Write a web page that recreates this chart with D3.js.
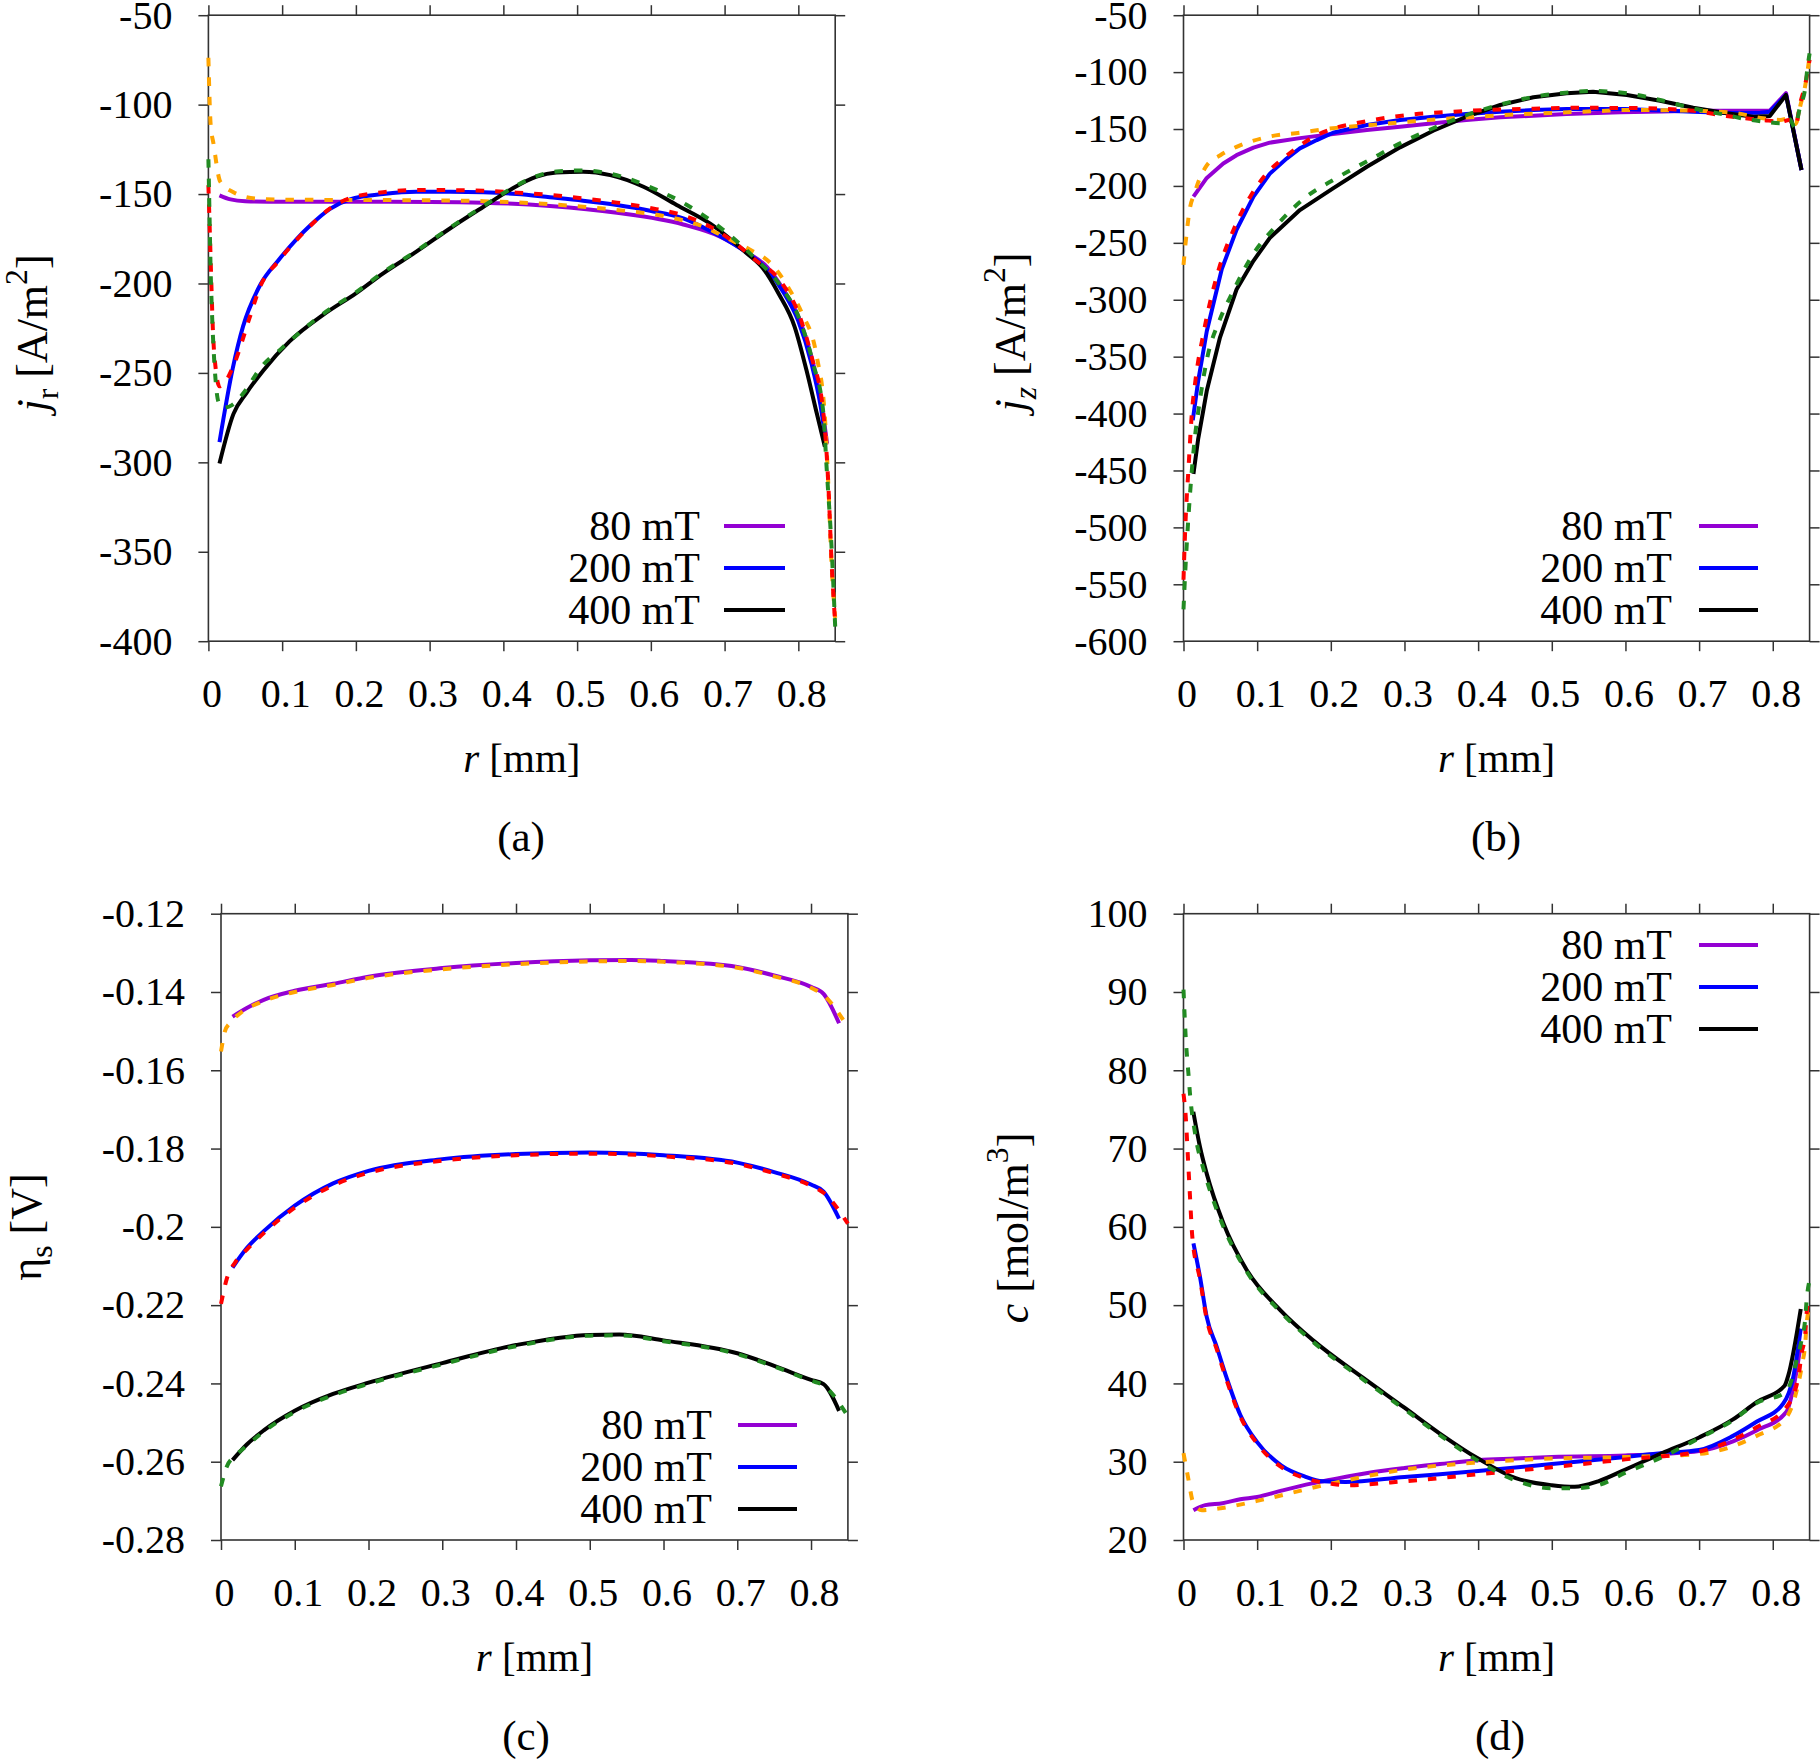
<!DOCTYPE html>
<html>
<head>
<meta charset="utf-8">
<script src="https://cdn.jsdelivr.net/npm/d3@7"></script>
<style>
  body { margin: 0; background: #fff; }
  svg { display: block; }
  text { font-family: "Liberation Serif", "Times New Roman", serif; fill: #000; white-space: pre; }
</style>
</head>
<body>
<script>
// r [mm] ticks, shared by all four panels
const rTicks = [0, 0.1, 0.2, 0.3, 0.4, 0.5, 0.6, 0.7, 0.8];
const jrTicks = [-400, -350, -300, -250, -200, -150, -100, -50];
const jzTicks = [-600, -550, -500, -450, -400, -350, -300, -250, -200, -150, -100, -50];
const etaTicks = [-0.28, -0.26, -0.24, -0.22, -0.2, -0.18, -0.16, -0.14, -0.12];
const cTicks = [20, 30, 40, 50, 60, 70, 80, 90, 100];

const fields = ["80 mT", "200 mT", "400 mT"];
const solidColors = ["#9400d3", "#0000ff", "#000000"];
const dashColors = ["#ffa500", "#ff0000", "#228b22"];

// (a) j_r, solid
const jr80 = [[0.015,-150.7],[0.03,-153],[0.05,-154],[0.1,-154.3],[0.2,-154.3],[0.3,-154.4],[0.373,-154.8],[0.463,-156.7],[0.554,-160.5],[0.644,-167],[0.694,-173.8],[0.73,-182.5],[0.757,-190.6],[0.78,-203.6],[0.802,-220.4],[0.82,-244.6],[0.832,-268.9],[0.839,-289.5]];
const jr200 = [[0.015,-288.7],[0.033,-247.5],[0.047,-224],[0.07,-201],[0.095,-187],[0.12,-175],[0.138,-167.6],[0.165,-158.3],[0.192,-153],[0.237,-150],[0.282,-148.7],[0.328,-148.7],[0.373,-149],[0.418,-150],[0.463,-151.8],[0.508,-153.7],[0.554,-156.1],[0.599,-159.3],[0.644,-163.6],[0.68,-170.5],[0.72,-180],[0.757,-192],[0.78,-205],[0.8,-221],[0.818,-245],[0.83,-268],[0.838,-290]];
const jr400 = [[0.015,-300.7],[0.034,-272.9],[0.052,-261],[0.0745,-248.6],[0.11,-232.4],[0.156,-217.4],[0.2,-205.5],[0.237,-194.3],[0.282,-182.2],[0.328,-169.1],[0.373,-157.1],[0.409,-147.7],[0.445,-140.3],[0.472,-138],[0.508,-137.5],[0.545,-139.4],[0.59,-145.9],[0.635,-156.1],[0.68,-166.4],[0.73,-183.1],[0.752,-191.5],[0.773,-205.5],[0.795,-224.2],[0.811,-248.4],[0.825,-272.6],[0.836,-291.3]];
// (a) j_r, dashed
const jr80d = [[0,-73.8],[0.003,-110.9],[0.007,-122],[0.016,-143],[0.034,-149],[0.065,-152.5],[0.11,-153.2],[0.2,-153.3],[0.3,-153.5],[0.373,-154],[0.463,-155.7],[0.554,-158.9],[0.626,-163],[0.67,-168],[0.705,-175],[0.734,-181],[0.762,-188.5],[0.791,-205.5],[0.805,-216.7],[0.825,-240.9],[0.836,-274.5],[0.841,-315.5],[0.845,-356.5],[0.85,-387]];
const jr200d = [[0,-145],[0.002,-172],[0.004,-200],[0.006,-225],[0.01,-248],[0.015,-257.5],[0.021,-256],[0.034,-246],[0.056,-219],[0.07,-202],[0.095,-187.5],[0.12,-175.5],[0.14,-167],[0.165,-158],[0.192,-152.3],[0.237,-149],[0.282,-147.8],[0.328,-147.8],[0.373,-148.2],[0.418,-149.2],[0.463,-150.5],[0.508,-152.4],[0.554,-154.8],[0.599,-157.8],[0.644,-162],[0.68,-168.2],[0.71,-176],[0.739,-186],[0.778,-199.9],[0.802,-218.6],[0.818,-241],[0.834,-272.6],[0.841,-315],[0.845,-355],[0.85,-390]];
const jr400d = [[0,-130.5],[0.0013,-157],[0.003,-192],[0.0054,-222],[0.009,-250],[0.0135,-266],[0.02,-269.5],[0.032,-268],[0.05,-260],[0.07,-247.5],[0.1,-236],[0.156,-216.8],[0.2,-205],[0.237,-193.8],[0.282,-181.8],[0.328,-168.7],[0.373,-156.7],[0.409,-147.3],[0.445,-140],[0.472,-137.4],[0.508,-136.8],[0.545,-138.6],[0.603,-146.8],[0.649,-156.1],[0.698,-170],[0.739,-185],[0.775,-200.9],[0.802,-220.4],[0.82,-244.6],[0.834,-272.6],[0.838,-300.5],[0.845,-347],[0.85,-392]];

// (b) j_z, solid
const jz80 = [[0.0135,-209.4],[0.0316,-193],[0.054,-180.3],[0.072,-173],[0.095,-166.4],[0.117,-162],[0.158,-158],[0.203,-154.4],[0.249,-150.8],[0.294,-148],[0.339,-145],[0.384,-142.1],[0.43,-139.7],[0.475,-138.3],[0.52,-136.8],[0.593,-135.3],[0.65,-134.5],[0.692,-133.9],[0.74,-134],[0.796,-133.9],[0.818,-118.5],[0.839,-186]];
const jz200 = [[0.0126,-405.9],[0.02,-371],[0.0316,-327.7],[0.052,-273],[0.072,-238.5],[0.095,-209.4],[0.117,-189.4],[0.14,-176],[0.158,-167],[0.181,-159.7],[0.203,-153.3],[0.249,-146.5],[0.294,-142.1],[0.339,-139.2],[0.384,-136.8],[0.43,-134.8],[0.475,-133.3],[0.52,-132.5],[0.6,-132.4],[0.692,-134.8],[0.74,-136],[0.783,-135.7],[0.796,-134.8],[0.818,-120],[0.839,-186]];
const jz400 = [[0.0135,-453],[0.02,-422],[0.0316,-380],[0.0496,-333],[0.072,-291],[0.095,-265.8],[0.117,-245.8],[0.158,-221.2],[0.203,-202.1],[0.249,-183.1],[0.294,-166.1],[0.339,-151.5],[0.384,-139.2],[0.43,-128.9],[0.475,-122.1],[0.52,-118.6],[0.556,-117.2],[0.602,-120.1],[0.647,-125.1],[0.692,-131.3],[0.737,-136.2],[0.774,-139.2],[0.796,-138.6],[0.818,-120.1],[0.839,-186]];
// (b) j_z, dashed
const jz80d = [[0,-269.4],[0.0045,-240],[0.009,-218.5],[0.0144,-207.6],[0.02,-196.7],[0.0316,-182],[0.05,-173],[0.072,-165.7],[0.117,-156.6],[0.158,-153.2],[0.207,-149],[0.253,-146.5],[0.29,-144.4],[0.344,-141.5],[0.398,-139.2],[0.452,-137.1],[0.506,-135.7],[0.56,-134.3],[0.602,-133.3],[0.692,-133.9],[0.751,-136.2],[0.787,-140.6],[0.81,-142],[0.822,-140.5],[0.831,-145.5],[0.838,-128],[0.844,-112],[0.85,-86]];
const jz200d = [[0,-546],[0.0023,-502],[0.0068,-448],[0.0113,-400],[0.016,-372],[0.0276,-328],[0.048,-273],[0.068,-238.5],[0.091,-209],[0.113,-189],[0.136,-175.5],[0.154,-166.5],[0.176,-157],[0.203,-149.6],[0.23,-145.5],[0.258,-142],[0.312,-137.1],[0.366,-134.8],[0.42,-133],[0.475,-132.2],[0.529,-131.4],[0.6,-131.5],[0.692,-134],[0.737,-138.6],[0.787,-142.1],[0.812,-143.5],[0.822,-142],[0.831,-147],[0.837,-128],[0.844,-111],[0.85,-89]];
const jz400d = [[0,-572],[0.0023,-540],[0.0068,-490],[0.0113,-450],[0.0158,-419],[0.0203,-397],[0.0316,-353],[0.0496,-317],[0.0654,-295],[0.0925,-262],[0.126,-235],[0.162,-212],[0.208,-193],[0.253,-177],[0.294,-162.6],[0.339,-149.3],[0.384,-137.8],[0.43,-128.5],[0.475,-121.8],[0.511,-118.6],[0.556,-116.6],[0.602,-118.6],[0.647,-124.5],[0.692,-131.9],[0.737,-137.7],[0.765,-141.5],[0.788,-143.5],[0.812,-145],[0.823,-141.5],[0.83,-148.5],[0.837,-130.4],[0.844,-114.2],[0.847,-96.7],[0.85,-83.5]];

// (c) eta_s, solid
const eta80 = [[0.0156,-0.1463],[0.035,-0.1441],[0.058,-0.142],[0.1,-0.1397],[0.152,-0.1379],[0.2,-0.1361],[0.3,-0.1339],[0.4,-0.1326],[0.5,-0.1319],[0.556,-0.1318],[0.6,-0.1321],[0.7,-0.1336],[0.75,-0.1358],[0.8,-0.1387],[0.817,-0.1405],[0.838,-0.148]];
const eta200 = [[0.0156,-0.2104],[0.035,-0.2054],[0.058,-0.2011],[0.1,-0.1946],[0.152,-0.1889],[0.2,-0.1857],[0.3,-0.1827],[0.4,-0.1814],[0.5,-0.181],[0.6,-0.1817],[0.7,-0.1836],[0.75,-0.186],[0.8,-0.1892],[0.817,-0.191],[0.838,-0.1979]];
const eta400 = [[0.0156,-0.2596],[0.035,-0.2556],[0.058,-0.252],[0.1,-0.247],[0.152,-0.2427],[0.2,-0.2398],[0.3,-0.2348],[0.4,-0.2302],[0.5,-0.2276],[0.54,-0.2275],[0.6,-0.229],[0.7,-0.2323],[0.75,-0.2355],[0.8,-0.2391],[0.817,-0.2402],[0.838,-0.247]];
// (c) eta_s, dashed
const eta80d = [[0,-0.1552],[0.0054,-0.15],[0.0117,-0.148],[0.027,-0.1453],[0.058,-0.1423],[0.1,-0.14],[0.152,-0.1382],[0.2,-0.1364],[0.3,-0.1342],[0.4,-0.1329],[0.5,-0.1322],[0.556,-0.1321],[0.6,-0.1323],[0.7,-0.1338],[0.75,-0.136],[0.8,-0.1389],[0.817,-0.1408],[0.85,-0.149]];
const eta200d = [[0,-0.2197],[0.0078,-0.2133],[0.0195,-0.209],[0.035,-0.2058],[0.058,-0.2016],[0.1,-0.1951],[0.152,-0.1894],[0.2,-0.1862],[0.3,-0.1831],[0.4,-0.1817],[0.5,-0.1813],[0.6,-0.182],[0.7,-0.1839],[0.75,-0.1863],[0.8,-0.1895],[0.817,-0.1913],[0.85,-0.1992]];
const eta400d = [[0,-0.2663],[0.0078,-0.2613],[0.0195,-0.2585],[0.035,-0.2559],[0.058,-0.2523],[0.1,-0.2473],[0.152,-0.243],[0.2,-0.2401],[0.3,-0.2351],[0.4,-0.2305],[0.5,-0.2278],[0.54,-0.2277],[0.6,-0.2292],[0.7,-0.2325],[0.75,-0.2357],[0.8,-0.2393],[0.817,-0.2405],[0.85,-0.2484]];

// (d) c, solid
const c80 = [[0.0135,23.8],[0.0295,24.46],[0.053,24.7],[0.077,25.2],[0.1,25.5],[0.133,26.3],[0.173,27.2],[0.2,27.7],[0.252,28.6],[0.3,29.2],[0.348,29.7],[0.4,30.2],[0.451,30.4],[0.5,30.6],[0.6,30.8],[0.65,31],[0.7,31.35],[0.746,32.6],[0.778,34],[0.818,36.3],[0.831,40.9],[0.838,45]];
const c200 = [[0.0135,57.9],[0.0224,53.6],[0.0315,48.5],[0.045,44.7],[0.0586,40.7],[0.077,36],[0.1,32.5],[0.133,29.5],[0.165,28.1],[0.189,27.5],[0.22,27.4],[0.3,28.05],[0.4,28.8],[0.5,29.7],[0.6,30.6],[0.65,31.1],[0.7,31.5],[0.746,33.3],[0.778,35.1],[0.814,37.4],[0.828,40.9],[0.838,47]];
const c400 = [[0.0133,74.7],[0.0224,70.2],[0.0315,66.8],[0.054,60.5],[0.0858,54.5],[0.131,49.4],[0.176,45.5],[0.244,40.7],[0.3,36.9],[0.348,33.6],[0.4,30.4],[0.451,27.9],[0.5,27],[0.531,26.8],[0.563,27.5],[0.6,29],[0.65,31.1],[0.7,33.1],[0.746,35.4],[0.778,37.6],[0.816,39.7],[0.821,41],[0.838,49.5]];
// (d) c, dashed
const c80d = [[0,31.1],[0.0056,28.3],[0.0135,24.7],[0.025,23.8],[0.053,24.1],[0.1,25],[0.2,27.2],[0.3,29],[0.4,29.9],[0.5,30.4],[0.6,30.6],[0.7,31],[0.778,33.3],[0.818,35.6],[0.834,39.7],[0.84,42.5],[0.844,45],[0.846,47.6],[0.85,49.8]];
const c200d = [[0,77],[0.003,74.1],[0.0057,69.4],[0.0088,63.9],[0.012,58.7],[0.0224,53.3],[0.0315,48.2],[0.045,44.4],[0.0586,40.4],[0.077,35.8],[0.1,32.3],[0.133,29.3],[0.165,27.9],[0.2,27.2],[0.22,27],[0.3,27.5],[0.4,28.4],[0.5,29.3],[0.6,30.3],[0.7,31.3],[0.778,34.4],[0.818,36.9],[0.835,40.9],[0.839,43.8],[0.844,46.2],[0.846,49],[0.85,51.1]];
const c400d = [[0,90.3],[0.003,84.2],[0.007,79.2],[0.0088,77],[0.0156,72],[0.029,66.8],[0.05,61],[0.0858,54.3],[0.131,49.2],[0.176,45.3],[0.244,40.5],[0.3,36.7],[0.348,33.4],[0.4,30.1],[0.451,27.6],[0.5,26.6],[0.531,26.6],[0.563,27],[0.6,28.6],[0.65,30.6],[0.7,33],[0.746,35.3],[0.778,37.5],[0.818,38.9],[0.825,40.3],[0.832,42.8],[0.839,45.5],[0.844,48.2],[0.846,50.7],[0.85,53.2]];

const panels = [
  { box: [208.4, 835.2, 15.2, 641.2], yDomain: [-400, -50], yTicks: jrTicks,
    solid: [jr80, jr200, jr400], dashed: [jr80d, jr200d, jr400d], sharp: false,
    label: [["j","i"],["r","s"],[" [A/m",""],["2","p"],["]",""]], labelPos: [47, 333],
    legend: { right: 700, x0: 724, x1: 785, ys: [526, 568, 610] }, caption: ["(a)", 521, 851] },
  { box: [1183.5, 1809.6, 15.2, 641.2], yDomain: [-600, -50], yTicks: jzTicks,
    solid: [jz80, jz200, jz400], dashed: [jz80d, jz200d, jz400d], sharp: true,
    label: [["j","i"],["z","si"],[" [A/m",""],["2","p"],["]",""]], labelPos: [1025, 332],
    legend: { right: 1672, x0: 1699, x1: 1758, ys: [526, 568, 610] }, caption: ["(b)", 1496, 851] },
  { box: [221, 847.9, 913.7, 1540], yDomain: [-0.28, -0.12], yTicks: etaTicks,
    solid: [eta80, eta200, eta400], dashed: [eta80d, eta200d, eta400d], sharp: false,
    label: [["η",""],["s","s"],[" [V]",""]], labelPos: [41, 1227],
    legend: { right: 712, x0: 738, x1: 797, ys: [1425, 1467, 1509] }, caption: ["(c)", 526, 1750] },
  { box: [1183.5, 1809.6, 913.7, 1540], yDomain: [20, 100], yTicks: cTicks,
    solid: [c80, c200, c400], dashed: [c80d, c200d, c400d], sharp: false,
    label: [["c","i"],[" [mol/m",""],["3","p"],["]",""]], labelPos: [1028, 1228],
    legend: { right: 1672, x0: 1699, x1: 1758, ys: [945, 987, 1029] }, caption: ["(d)", 1500, 1750] }
];

const FS = 40;
const fmt = v => String(+v.toFixed(2));

const svg = d3.select("body").append("svg")
  .attr("width", 1820).attr("height", 1761)
  .attr("xmlns", "http://www.w3.org/2000/svg");
svg.append("rect").attr("width", 1820).attr("height", 1761).attr("fill", "#fff");

function richText(sel, parts, fs) {
  let shift = 0;
  parts.forEach(([t, kind]) => {
    const small = kind.includes("s") || kind.includes("p");
    const target = kind.includes("s") ? 0.25 * fs : kind.includes("p") ? -0.45 * fs : 0;
    const ts = sel.append("tspan").attr("dy", target - shift).text(t);
    shift = target;
    if (small) ts.attr("font-size", fs * 0.72);
    if (kind.includes("i")) ts.attr("font-style", "italic");
  });
}

function styleAxis(g) {
  g.attr("font-size", FS).attr("font-family", null);
  g.select(".domain").remove();
  g.selectAll(".tick line").attr("stroke", "#333").attr("stroke-width", 1.5);
}

function drawPanel(p) {
  const [x0, x1, y0, y1] = p.box;
  const x = d3.scaleLinear([0, 0.85], [x0, x1]);
  const y = d3.scaleLinear(p.yDomain, [y1, y0]);
  const g = svg.append("g");

  g.append("g").attr("transform", `translate(0,${y1})`)
    .call(d3.axisBottom(x).tickValues(rTicks).tickSize(10).tickPadding(27.6).tickFormat(fmt))
    .call(styleAxis)
    .selectAll(".tick text").attr("dx", 3);
  g.append("g").attr("transform", `translate(0,${y0})`)
    .call(d3.axisTop(x).tickValues(rTicks).tickSize(10).tickFormat(""))
    .call(styleAxis);
  g.append("g").attr("transform", `translate(${x0},0)`)
    .call(d3.axisLeft(y).tickValues(p.yTicks).tickSize(10).tickPadding(26).tickFormat(fmt))
    .call(styleAxis);
  g.append("g").attr("transform", `translate(${x1},0)`)
    .call(d3.axisRight(y).tickValues(p.yTicks).tickSize(10).tickFormat(""))
    .call(styleAxis);

  g.append("rect").attr("x", x0).attr("y", y0).attr("width", x1 - x0).attr("height", y1 - y0)
    .attr("fill", "none").attr("stroke", "#333").attr("stroke-width", 1.6);

  // (b) keeps the sharp spike near the edge, so its solid lines are straight segments
  const solidLine = d3.line().x(d => x(d[0])).y(d => y(d[1]))
    .curve(p.sharp ? d3.curveLinear : d3.curveMonotoneX);
  const dashLine = d3.line().x(d => x(d[0])).y(d => y(d[1])).curve(d3.curveMonotoneX);

  p.solid.forEach((s, i) => {
    g.append("path").attr("d", solidLine(s)).attr("fill", "none")
      .attr("stroke", solidColors[i]).attr("stroke-width", 4).attr("stroke-linejoin", "round");
  });
  p.dashed.forEach((s, i) => {
    g.append("path").attr("d", dashLine(s)).attr("fill", "none")
      .attr("stroke", dashColors[i]).attr("stroke-width", 4).attr("stroke-dasharray", "8.5,11");
  });

  // legend (solid series only)
  p.legend.ys.forEach((ly, i) => {
    g.append("text").attr("x", p.legend.right).attr("y", ly + 14)
      .attr("text-anchor", "end").attr("font-size", 42).text(fields[i]);
    g.append("line").attr("x1", p.legend.x0).attr("x2", p.legend.x1).attr("y1", ly).attr("y2", ly)
      .attr("stroke", solidColors[i]).attr("stroke-width", 4);
  });

  // axis titles
  richText(g.append("text").attr("x", (x0 + x1) / 2).attr("y", y1 + 131)
    .attr("text-anchor", "middle").attr("font-size", 41), [["r","i"],[" [mm]",""]], 41);
  richText(g.append("text")
    .attr("transform", `translate(${p.labelPos[0]},${p.labelPos[1]}) rotate(-90)`)
    .attr("text-anchor", "middle").attr("font-size", 44), p.label, 44);

  g.append("text").attr("x", p.caption[1]).attr("y", p.caption[2])
    .attr("text-anchor", "middle").attr("font-size", 43).text(p.caption[0]);
}

panels.forEach(drawPanel);
</script>
</body>
</html>
